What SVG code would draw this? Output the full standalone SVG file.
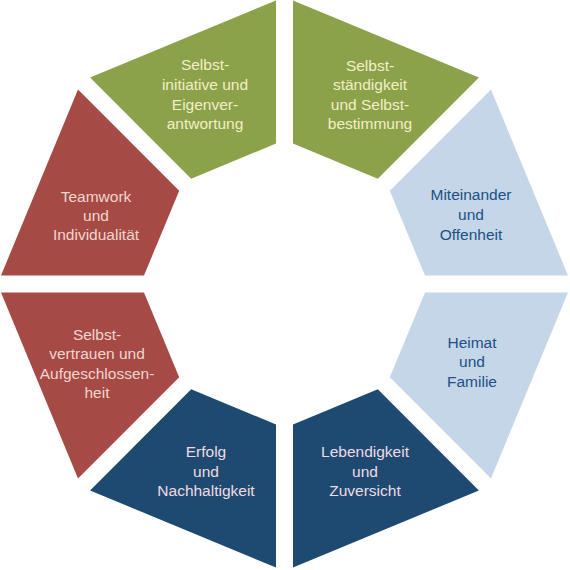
<svg xmlns="http://www.w3.org/2000/svg" width="570" height="570" viewBox="0 0 570 570">
  <style>
    .lbl { font-family: "Liberation Sans", Arial, sans-serif; font-size: 15.5px; text-anchor: middle; }
    .green { fill: #8ba24b; }
    .red { fill: #a54a44; }
    .lblue { fill: #c5d6e9; }
    .dblue { fill: #1e4a72; }
    .tgreen { fill: #f3efc4; }
    .tred { fill: #f2d6cf; }
    .tlblue { fill: #1b5185; }
    .tdblue { fill: #f0dbe2; }
  </style>
  <rect width="570" height="570" fill="#ffffff"/>
  <g id="connectors"/>
  <g id="seg-selbstinitiative">
    <polygon class="green" points="276,0.5 90.1,77.5 191.2,178.7 276,143.5"/>
    <text class="lbl tgreen" x="205"><tspan x="205" y="70">Selbst-</tspan><tspan x="205" y="90">initiative und</tspan><tspan x="205" y="110">Eigenver-</tspan><tspan x="205" y="129">antwortung</tspan></text>
  </g>
  <g id="seg-selbststaendigkeit">
    <polygon class="green" points="293,0.5 478.9,77.5 377.8,178.7 293,143.5"/>
    <text class="lbl tgreen" x="370"><tspan x="370" y="71">Selbst-</tspan><tspan x="370" y="90">ständigkeit</tspan><tspan x="370" y="110">und Selbst-</tspan><tspan x="370" y="129">bestimmung</tspan></text>
  </g>
  <g id="seg-miteinander">
    <polygon class="lblue" points="568,275.5 491,89.6 389.8,190.7 425,275.5"/>
    <text class="lbl tlblue" x="471"><tspan x="471" y="200">Miteinander</tspan><tspan x="471" y="220">und</tspan><tspan x="471" y="240">Offenheit</tspan></text>
  </g>
  <g id="seg-heimat">
    <polygon class="lblue" points="568,292.5 491,478.4 389.8,377.3 425,292.5"/>
    <text class="lbl tlblue" x="472"><tspan x="472" y="348">Heimat</tspan><tspan x="472" y="367">und</tspan><tspan x="472" y="387">Familie</tspan></text>
  </g>
  <g id="seg-lebendigkeit">
    <polygon class="dblue" points="293,567.5 478.9,490.5 377.8,389.3 293,424.5"/>
    <text class="lbl tdblue" x="365"><tspan x="365" y="457">Lebendigkeit</tspan><tspan x="365" y="477">und</tspan><tspan x="365" y="496">Zuversicht</tspan></text>
  </g>
  <g id="seg-erfolg">
    <polygon class="dblue" points="276,567.5 90.1,490.5 191.2,389.3 276,424.5"/>
    <text class="lbl tdblue" x="206"><tspan x="206" y="457">Erfolg</tspan><tspan x="206" y="477">und</tspan><tspan x="206" y="496">Nachhaltigkeit</tspan></text>
  </g>
  <g id="seg-selbstvertrauen">
    <polygon class="red" points="1,292.5 78,478.4 179.2,377.3 144,292.5"/>
    <text class="lbl tred" x="97"><tspan x="97" y="340">Selbst-</tspan><tspan x="97" y="359">vertrauen und</tspan><tspan x="97" y="379">Aufgeschlossen-</tspan><tspan x="97" y="398">heit</tspan></text>
  </g>
  <g id="seg-teamwork">
    <polygon class="red" points="1,275.5 78,89.6 179.2,190.7 144,275.5"/>
    <text class="lbl tred" x="96"><tspan x="96" y="202">Teamwork</tspan><tspan x="96" y="221">und</tspan><tspan x="96" y="240">Individualität</tspan></text>
  </g>
</svg>
